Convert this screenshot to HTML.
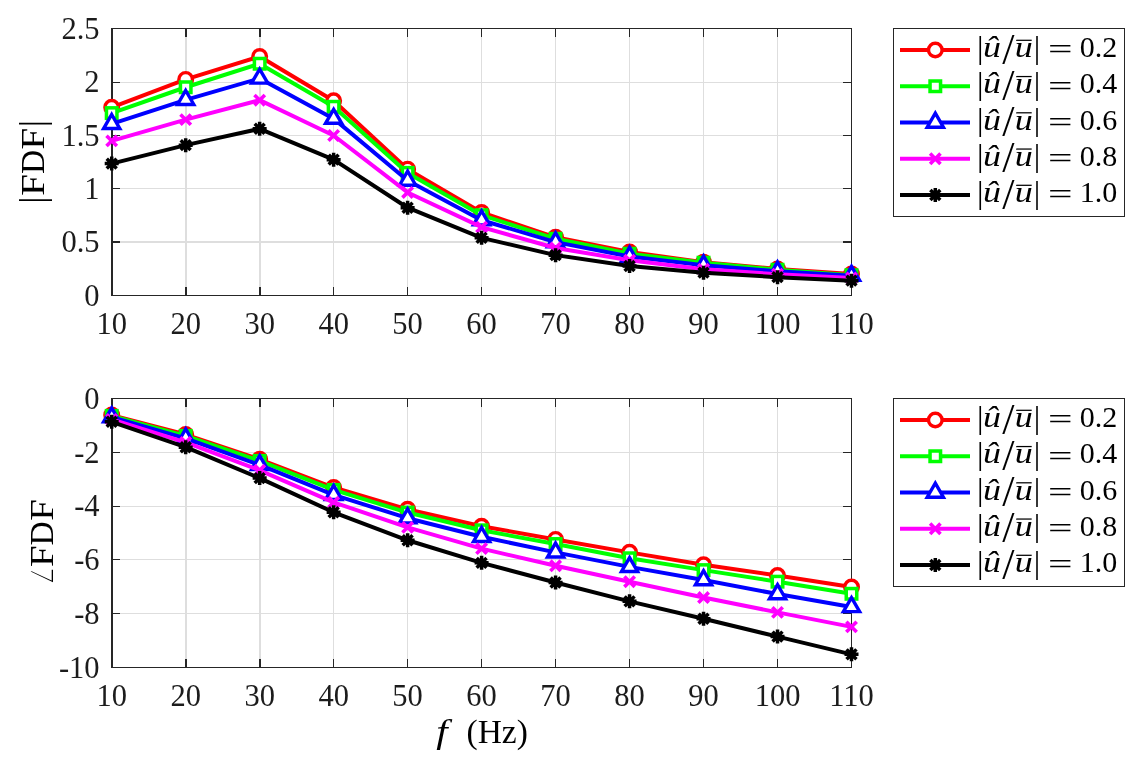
<!DOCTYPE html>
<html><head><meta charset="utf-8"><title>FDF magnitude and phase</title>
<style>
html,body{margin:0;padding:0;background:#fff;}
body{width:1136px;height:757px;overflow:hidden;}
svg{display:block;}
text{font-family:"Liberation Serif","Noto Serif CJK SC",serif;fill:#1c1c1c;}
.tl text{font-size:30.5px;}
.lg{font-size:30px;fill:#000;}
.lg.bar{font-size:32.5px;}
.lg.sl{font-size:44px;}
.al{font-size:33.5px;fill:#000;}
.al.bar2{font-size:35px;}
.ang{font-size:33px;fill:#000;font-family:"Noto Serif CJK SC","Liberation Serif",serif;}
.it{font-style:italic;}
</style></head><body>
<svg width="1136" height="757" viewBox="0 0 1136 757">
<rect width="1136" height="757" fill="#fff"/>
<path d="M185 29h2v266h-2zM259 29h2v266h-2zM333 29h1v266h-1zM407 29h1v266h-1zM481 29h1v266h-1zM555 29h1v266h-1zM629 29h1v266h-1zM703 29h1v266h-1zM777 29h1v266h-1zM113 241h738v2h-738zM113 188h738v1h-738zM113 135h738v1h-738zM113 82h738v1h-738z" fill="#dedede" shape-rendering="crispEdges"/>
<path d="M111 28h2v268h-2zM851 28h1v268h-1zM111 28h741v1h-741zM111 295h741v1h-741zM185 287h2v8h-2zM185 29h2v8h-2zM259 287h2v8h-2zM259 29h2v8h-2zM333 287h1v8h-1zM333 29h1v8h-1zM407 287h1v8h-1zM407 29h1v8h-1zM481 287h1v8h-1zM481 29h1v8h-1zM555 287h1v8h-1zM555 29h1v8h-1zM629 287h1v8h-1zM629 29h1v8h-1zM703 287h1v8h-1zM703 29h1v8h-1zM777 287h1v8h-1zM777 29h1v8h-1zM113 241h7v2h-7zM843 241h8v2h-8zM113 188h7v1h-7zM843 188h8v1h-8zM113 135h7v1h-7zM843 135h8v1h-8zM113 82h7v1h-7zM843 82h8v1h-8z" fill="#262626" shape-rendering="crispEdges"/>
<polyline points="111.7,107.32 185.68,79.44 259.66,56.48 333.64,100.8 407.62,169.16 481.6,212.52 555.58,237.29 629.56,252.03 703.54,262.18 777.52,268.91 851.5,273.93" fill="none" stroke="#ff0000" stroke-width="4.0" stroke-linejoin="round"/>
<circle cx="111.7" cy="107.32" r="6.8" fill="#fff" stroke="#ff0000" stroke-width="3.4"/>
<circle cx="185.68" cy="79.44" r="6.8" fill="#fff" stroke="#ff0000" stroke-width="3.4"/>
<circle cx="259.66" cy="56.48" r="6.8" fill="#fff" stroke="#ff0000" stroke-width="3.4"/>
<circle cx="333.64" cy="100.8" r="6.8" fill="#fff" stroke="#ff0000" stroke-width="3.4"/>
<circle cx="407.62" cy="169.16" r="6.8" fill="#fff" stroke="#ff0000" stroke-width="3.4"/>
<circle cx="481.6" cy="212.52" r="6.8" fill="#fff" stroke="#ff0000" stroke-width="3.4"/>
<circle cx="555.58" cy="237.29" r="6.8" fill="#fff" stroke="#ff0000" stroke-width="3.4"/>
<circle cx="629.56" cy="252.03" r="6.8" fill="#fff" stroke="#ff0000" stroke-width="3.4"/>
<circle cx="703.54" cy="262.18" r="6.8" fill="#fff" stroke="#ff0000" stroke-width="3.4"/>
<circle cx="777.52" cy="268.91" r="6.8" fill="#fff" stroke="#ff0000" stroke-width="3.4"/>
<circle cx="851.5" cy="273.93" r="6.8" fill="#fff" stroke="#ff0000" stroke-width="3.4"/>
<polyline points="111.7,113.09 185.68,87.24 259.66,63.74 333.64,106.78 407.62,172.89 481.6,215.19 555.58,238.79 629.56,253.74 703.54,262.71 777.52,269.76 851.5,275.21" fill="none" stroke="#00ff00" stroke-width="4.0" stroke-linejoin="round"/>
<rect x="106.45" y="107.84" width="10.5" height="10.5" fill="#fff" stroke="#00ff00" stroke-width="3.5"/>
<rect x="180.43" y="81.99" width="10.5" height="10.5" fill="#fff" stroke="#00ff00" stroke-width="3.5"/>
<rect x="254.41" y="58.49" width="10.5" height="10.5" fill="#fff" stroke="#00ff00" stroke-width="3.5"/>
<rect x="328.39" y="101.53" width="10.5" height="10.5" fill="#fff" stroke="#00ff00" stroke-width="3.5"/>
<rect x="402.37" y="167.64" width="10.5" height="10.5" fill="#fff" stroke="#00ff00" stroke-width="3.5"/>
<rect x="476.35" y="209.94" width="10.5" height="10.5" fill="#fff" stroke="#00ff00" stroke-width="3.5"/>
<rect x="550.33" y="233.54" width="10.5" height="10.5" fill="#fff" stroke="#00ff00" stroke-width="3.5"/>
<rect x="624.31" y="248.49" width="10.5" height="10.5" fill="#fff" stroke="#00ff00" stroke-width="3.5"/>
<rect x="698.29" y="257.46" width="10.5" height="10.5" fill="#fff" stroke="#00ff00" stroke-width="3.5"/>
<rect x="772.27" y="264.51" width="10.5" height="10.5" fill="#fff" stroke="#00ff00" stroke-width="3.5"/>
<rect x="846.25" y="269.96" width="10.5" height="10.5" fill="#fff" stroke="#00ff00" stroke-width="3.5"/>
<polyline points="111.7,123.87 185.68,99.84 259.66,78.48 333.64,118.64 407.62,180.58 481.6,220.21 555.58,242.1 629.56,256.52 703.54,265.28 777.52,271.36 851.5,275.74" fill="none" stroke="#0000ff" stroke-width="4.0" stroke-linejoin="round"/>
<path d="M111.7 114.51L119.8 128.55L103.6 128.55Z" fill="#fff" stroke="#0000ff" stroke-width="3.4" stroke-miterlimit="10"/>
<path d="M185.68 90.48L193.78 104.52L177.58 104.52Z" fill="#fff" stroke="#0000ff" stroke-width="3.4" stroke-miterlimit="10"/>
<path d="M259.66 69.12L267.76 83.16L251.56 83.16Z" fill="#fff" stroke="#0000ff" stroke-width="3.4" stroke-miterlimit="10"/>
<path d="M333.64 109.28L341.74 123.32L325.54 123.32Z" fill="#fff" stroke="#0000ff" stroke-width="3.4" stroke-miterlimit="10"/>
<path d="M407.62 171.22L415.72 185.26L399.52 185.26Z" fill="#fff" stroke="#0000ff" stroke-width="3.4" stroke-miterlimit="10"/>
<path d="M481.6 210.85L489.7 224.89L473.5 224.89Z" fill="#fff" stroke="#0000ff" stroke-width="3.4" stroke-miterlimit="10"/>
<path d="M555.58 232.74L563.68 246.78L547.48 246.78Z" fill="#fff" stroke="#0000ff" stroke-width="3.4" stroke-miterlimit="10"/>
<path d="M629.56 247.16L637.66 261.2L621.46 261.2Z" fill="#fff" stroke="#0000ff" stroke-width="3.4" stroke-miterlimit="10"/>
<path d="M703.54 255.92L711.64 269.96L695.44 269.96Z" fill="#fff" stroke="#0000ff" stroke-width="3.4" stroke-miterlimit="10"/>
<path d="M777.52 262L785.62 276.04L769.42 276.04Z" fill="#fff" stroke="#0000ff" stroke-width="3.4" stroke-miterlimit="10"/>
<path d="M851.5 266.38L859.6 280.42L843.4 280.42Z" fill="#fff" stroke="#0000ff" stroke-width="3.4" stroke-miterlimit="10"/>
<polyline points="111.7,140.85 185.68,119.6 259.66,100.16 333.64,135.51 407.62,192.44 481.6,227.15 555.58,247.97 629.56,260.26 703.54,269.33 777.52,274.14 851.5,277.98" fill="none" stroke="#ff00ff" stroke-width="4.0" stroke-linejoin="round"/>
<path d="M106.5 135.65L116.9 146.05M106.5 146.05L116.9 135.65" stroke="#ff00ff" stroke-width="3.6" fill="none"/>
<path d="M180.48 114.4L190.88 124.8M180.48 124.8L190.88 114.4" stroke="#ff00ff" stroke-width="3.6" fill="none"/>
<path d="M254.46 94.96L264.86 105.36M254.46 105.36L264.86 94.96" stroke="#ff00ff" stroke-width="3.6" fill="none"/>
<path d="M328.44 130.31L338.84 140.71M328.44 140.71L338.84 130.31" stroke="#ff00ff" stroke-width="3.6" fill="none"/>
<path d="M402.42 187.24L412.82 197.64M402.42 197.64L412.82 187.24" stroke="#ff00ff" stroke-width="3.6" fill="none"/>
<path d="M476.4 221.95L486.8 232.35M476.4 232.35L486.8 221.95" stroke="#ff00ff" stroke-width="3.6" fill="none"/>
<path d="M550.38 242.77L560.78 253.17M550.38 253.17L560.78 242.77" stroke="#ff00ff" stroke-width="3.6" fill="none"/>
<path d="M624.36 255.06L634.76 265.46M624.36 265.46L634.76 255.06" stroke="#ff00ff" stroke-width="3.6" fill="none"/>
<path d="M698.34 264.13L708.74 274.53M698.34 274.53L708.74 264.13" stroke="#ff00ff" stroke-width="3.6" fill="none"/>
<path d="M772.32 268.94L782.72 279.34M772.32 279.34L782.72 268.94" stroke="#ff00ff" stroke-width="3.6" fill="none"/>
<path d="M846.3 272.78L856.7 283.18M846.3 283.18L856.7 272.78" stroke="#ff00ff" stroke-width="3.6" fill="none"/>
<polyline points="111.7,163.6 185.68,145.13 259.66,128.79 333.64,159.65 407.62,207.71 481.6,237.83 555.58,255.13 629.56,266.02 703.54,272.64 777.52,277.13 851.5,280.65" fill="none" stroke="#000000" stroke-width="4.0" stroke-linejoin="round"/>
<path d="M104.7 163.6L118.7 163.6M111.7 156.6L111.7 170.6M106.75 158.65L116.65 168.55M106.75 168.55L116.65 158.65" stroke="#000000" stroke-width="3.5" fill="none"/>
<path d="M178.68 145.13L192.68 145.13M185.68 138.13L185.68 152.13M180.73 140.18L190.63 150.08M180.73 150.08L190.63 140.18" stroke="#000000" stroke-width="3.5" fill="none"/>
<path d="M252.66 128.79L266.66 128.79M259.66 121.79L259.66 135.79M254.71 123.84L264.61 133.73M254.71 133.73L264.61 123.84" stroke="#000000" stroke-width="3.5" fill="none"/>
<path d="M326.64 159.65L340.64 159.65M333.64 152.65L333.64 166.65M328.69 154.7L338.59 164.6M328.69 164.6L338.59 154.7" stroke="#000000" stroke-width="3.5" fill="none"/>
<path d="M400.62 207.71L414.62 207.71M407.62 200.71L407.62 214.71M402.67 202.76L412.57 212.66M402.67 212.66L412.57 202.76" stroke="#000000" stroke-width="3.5" fill="none"/>
<path d="M474.6 237.83L488.6 237.83M481.6 230.83L481.6 244.83M476.65 232.88L486.55 242.78M476.65 242.78L486.55 232.88" stroke="#000000" stroke-width="3.5" fill="none"/>
<path d="M548.58 255.13L562.58 255.13M555.58 248.13L555.58 262.13M550.63 250.18L560.53 260.08M550.63 260.08L560.53 250.18" stroke="#000000" stroke-width="3.5" fill="none"/>
<path d="M622.56 266.02L636.56 266.02M629.56 259.02L629.56 273.02M624.61 261.07L634.51 270.97M624.61 270.97L634.51 261.07" stroke="#000000" stroke-width="3.5" fill="none"/>
<path d="M696.54 272.64L710.54 272.64M703.54 265.64L703.54 279.64M698.59 267.7L708.49 277.59M698.59 277.59L708.49 267.7" stroke="#000000" stroke-width="3.5" fill="none"/>
<path d="M770.52 277.13L784.52 277.13M777.52 270.13L777.52 284.13M772.57 272.18L782.47 282.08M772.57 282.08L782.47 272.18" stroke="#000000" stroke-width="3.5" fill="none"/>
<path d="M844.5 280.65L858.5 280.65M851.5 273.65L851.5 287.65M846.55 275.71L856.45 285.6M846.55 285.6L856.45 275.71" stroke="#000000" stroke-width="3.5" fill="none"/>
<g class="tl"><text transform="translate(99.6 305.8)" text-anchor="end">0</text><text transform="translate(99.6 252.4)" text-anchor="end">0.5</text><text transform="translate(99.6 199)" text-anchor="end">1</text><text transform="translate(99.6 145.6)" text-anchor="end">1.5</text><text transform="translate(99.6 92.2)" text-anchor="end">2</text><text transform="translate(99.6 38.8)" text-anchor="end">2.5</text><text transform="translate(111.7 334.2)" text-anchor="middle">10</text><text transform="translate(185.68 334.2)" text-anchor="middle">20</text><text transform="translate(259.66 334.2)" text-anchor="middle">30</text><text transform="translate(333.64 334.2)" text-anchor="middle">40</text><text transform="translate(407.62 334.2)" text-anchor="middle">50</text><text transform="translate(481.6 334.2)" text-anchor="middle">60</text><text transform="translate(555.58 334.2)" text-anchor="middle">70</text><text transform="translate(629.56 334.2)" text-anchor="middle">80</text><text transform="translate(703.54 334.2)" text-anchor="middle">90</text><text transform="translate(777.52 334.2)" text-anchor="middle">100</text><text transform="translate(851.5 334.2)" text-anchor="middle">110</text></g>
<path d="M185 399h2v268h-2zM259 399h2v268h-2zM333 399h1v268h-1zM407 399h1v268h-1zM481 399h1v268h-1zM555 399h1v268h-1zM629 399h1v268h-1zM703 399h1v268h-1zM777 399h1v268h-1zM113 452h738v1h-738zM113 506h738v1h-738zM113 559h738v1h-738zM113 613h738v1h-738z" fill="#dedede" shape-rendering="crispEdges"/>
<path d="M111 398h2v270h-2zM851 398h1v270h-1zM111 398h741v1h-741zM111 667h741v1h-741zM185 659h2v8h-2zM185 399h2v8h-2zM259 659h2v8h-2zM259 399h2v8h-2zM333 659h1v8h-1zM333 399h1v8h-1zM407 659h1v8h-1zM407 399h1v8h-1zM481 659h1v8h-1zM481 399h1v8h-1zM555 659h1v8h-1zM555 399h1v8h-1zM629 659h1v8h-1zM629 399h1v8h-1zM703 659h1v8h-1zM703 399h1v8h-1zM777 659h1v8h-1zM777 399h1v8h-1zM113 452h7v1h-7zM843 452h8v1h-8zM113 506h7v1h-7zM843 506h8v1h-8zM113 559h7v1h-7zM843 559h8v1h-8zM113 613h7v1h-7zM843 613h8v1h-8z" fill="#262626" shape-rendering="crispEdges"/>
<polyline points="111.7,415.1 185.68,434.55 259.66,459.29 333.64,487.54 407.62,509.33 481.6,526.27 555.58,539.46 629.56,552.37 703.54,564.74 777.52,575.5 851.5,587.07" fill="none" stroke="#ff0000" stroke-width="4.0" stroke-linejoin="round"/>
<circle cx="111.7" cy="415.1" r="6.8" fill="#fff" stroke="#ff0000" stroke-width="3.4"/>
<circle cx="185.68" cy="434.55" r="6.8" fill="#fff" stroke="#ff0000" stroke-width="3.4"/>
<circle cx="259.66" cy="459.29" r="6.8" fill="#fff" stroke="#ff0000" stroke-width="3.4"/>
<circle cx="333.64" cy="487.54" r="6.8" fill="#fff" stroke="#ff0000" stroke-width="3.4"/>
<circle cx="407.62" cy="509.33" r="6.8" fill="#fff" stroke="#ff0000" stroke-width="3.4"/>
<circle cx="481.6" cy="526.27" r="6.8" fill="#fff" stroke="#ff0000" stroke-width="3.4"/>
<circle cx="555.58" cy="539.46" r="6.8" fill="#fff" stroke="#ff0000" stroke-width="3.4"/>
<circle cx="629.56" cy="552.37" r="6.8" fill="#fff" stroke="#ff0000" stroke-width="3.4"/>
<circle cx="703.54" cy="564.74" r="6.8" fill="#fff" stroke="#ff0000" stroke-width="3.4"/>
<circle cx="777.52" cy="575.5" r="6.8" fill="#fff" stroke="#ff0000" stroke-width="3.4"/>
<circle cx="851.5" cy="587.07" r="6.8" fill="#fff" stroke="#ff0000" stroke-width="3.4"/>
<polyline points="111.7,415.9 185.68,435.89 259.66,460.91 333.64,489.96 407.62,512.56 481.6,530.31 555.58,544.03 629.56,558.29 703.54,570.12 777.52,581.69 851.5,593.79" fill="none" stroke="#00ff00" stroke-width="4.0" stroke-linejoin="round"/>
<rect x="106.45" y="410.65" width="10.5" height="10.5" fill="#fff" stroke="#00ff00" stroke-width="3.5"/>
<rect x="180.43" y="430.64" width="10.5" height="10.5" fill="#fff" stroke="#00ff00" stroke-width="3.5"/>
<rect x="254.41" y="455.66" width="10.5" height="10.5" fill="#fff" stroke="#00ff00" stroke-width="3.5"/>
<rect x="328.39" y="484.71" width="10.5" height="10.5" fill="#fff" stroke="#00ff00" stroke-width="3.5"/>
<rect x="402.37" y="507.31" width="10.5" height="10.5" fill="#fff" stroke="#00ff00" stroke-width="3.5"/>
<rect x="476.35" y="525.06" width="10.5" height="10.5" fill="#fff" stroke="#00ff00" stroke-width="3.5"/>
<rect x="550.33" y="538.78" width="10.5" height="10.5" fill="#fff" stroke="#00ff00" stroke-width="3.5"/>
<rect x="624.31" y="553.04" width="10.5" height="10.5" fill="#fff" stroke="#00ff00" stroke-width="3.5"/>
<rect x="698.29" y="564.87" width="10.5" height="10.5" fill="#fff" stroke="#00ff00" stroke-width="3.5"/>
<rect x="772.27" y="576.44" width="10.5" height="10.5" fill="#fff" stroke="#00ff00" stroke-width="3.5"/>
<rect x="846.25" y="588.54" width="10.5" height="10.5" fill="#fff" stroke="#00ff00" stroke-width="3.5"/>
<polyline points="111.7,417.2 185.68,438.31 259.66,464.94 333.64,494.8 407.62,518.21 481.6,536.77 555.58,552.37 629.56,566.89 703.54,580.08 777.52,594.06 851.5,606.98" fill="none" stroke="#0000ff" stroke-width="4.0" stroke-linejoin="round"/>
<path d="M111.7 407.84L119.8 421.88L103.6 421.88Z" fill="#fff" stroke="#0000ff" stroke-width="3.4" stroke-miterlimit="10"/>
<path d="M185.68 428.95L193.78 442.99L177.58 442.99Z" fill="#fff" stroke="#0000ff" stroke-width="3.4" stroke-miterlimit="10"/>
<path d="M259.66 455.58L267.76 469.62L251.56 469.62Z" fill="#fff" stroke="#0000ff" stroke-width="3.4" stroke-miterlimit="10"/>
<path d="M333.64 485.44L341.74 499.48L325.54 499.48Z" fill="#fff" stroke="#0000ff" stroke-width="3.4" stroke-miterlimit="10"/>
<path d="M407.62 508.85L415.72 522.88L399.52 522.88Z" fill="#fff" stroke="#0000ff" stroke-width="3.4" stroke-miterlimit="10"/>
<path d="M481.6 527.41L489.7 541.45L473.5 541.45Z" fill="#fff" stroke="#0000ff" stroke-width="3.4" stroke-miterlimit="10"/>
<path d="M555.58 543.01L563.68 557.05L547.48 557.05Z" fill="#fff" stroke="#0000ff" stroke-width="3.4" stroke-miterlimit="10"/>
<path d="M629.56 557.53L637.66 571.57L621.46 571.57Z" fill="#fff" stroke="#0000ff" stroke-width="3.4" stroke-miterlimit="10"/>
<path d="M703.54 570.72L711.64 584.75L695.44 584.75Z" fill="#fff" stroke="#0000ff" stroke-width="3.4" stroke-miterlimit="10"/>
<path d="M777.52 584.7L785.62 598.74L769.42 598.74Z" fill="#fff" stroke="#0000ff" stroke-width="3.4" stroke-miterlimit="10"/>
<path d="M851.5 597.62L859.6 611.65L843.4 611.65Z" fill="#fff" stroke="#0000ff" stroke-width="3.4" stroke-miterlimit="10"/>
<polyline points="111.7,419.48 185.68,442.35 259.66,470.32 333.64,502.33 407.62,527.35 481.6,548.6 555.58,565.82 629.56,581.69 703.54,597.56 777.52,612.36 851.5,626.88" fill="none" stroke="#ff00ff" stroke-width="4.0" stroke-linejoin="round"/>
<path d="M106.5 414.28L116.9 424.68M106.5 424.68L116.9 414.28" stroke="#ff00ff" stroke-width="3.6" fill="none"/>
<path d="M180.48 437.15L190.88 447.55M180.48 447.55L190.88 437.15" stroke="#ff00ff" stroke-width="3.6" fill="none"/>
<path d="M254.46 465.12L264.86 475.52M254.46 475.52L264.86 465.12" stroke="#ff00ff" stroke-width="3.6" fill="none"/>
<path d="M328.44 497.13L338.84 507.53M328.44 507.53L338.84 497.13" stroke="#ff00ff" stroke-width="3.6" fill="none"/>
<path d="M402.42 522.15L412.82 532.55M402.42 532.55L412.82 522.15" stroke="#ff00ff" stroke-width="3.6" fill="none"/>
<path d="M476.4 543.4L486.8 553.8M476.4 553.8L486.8 543.4" stroke="#ff00ff" stroke-width="3.6" fill="none"/>
<path d="M550.38 560.62L560.78 571.02M550.38 571.02L560.78 560.62" stroke="#ff00ff" stroke-width="3.6" fill="none"/>
<path d="M624.36 576.49L634.76 586.89M624.36 586.89L634.76 576.49" stroke="#ff00ff" stroke-width="3.6" fill="none"/>
<path d="M698.34 592.36L708.74 602.76M698.34 602.76L708.74 592.36" stroke="#ff00ff" stroke-width="3.6" fill="none"/>
<path d="M772.32 607.15L782.72 617.56M772.32 617.56L782.72 607.15" stroke="#ff00ff" stroke-width="3.6" fill="none"/>
<path d="M846.3 621.68L856.7 632.08M846.3 632.08L856.7 621.68" stroke="#ff00ff" stroke-width="3.6" fill="none"/>
<polyline points="111.7,421.8 185.68,447.19 259.66,478.12 333.64,512.29 407.62,540.26 481.6,562.86 555.58,582.5 629.56,601.33 703.54,618.81 777.52,636.57 851.5,654.32" fill="none" stroke="#000000" stroke-width="4.0" stroke-linejoin="round"/>
<path d="M104.7 421.8L118.7 421.8M111.7 414.8L111.7 428.8M106.75 416.85L116.65 426.75M106.75 426.75L116.65 416.85" stroke="#000000" stroke-width="3.5" fill="none"/>
<path d="M178.68 447.19L192.68 447.19M185.68 440.19L185.68 454.19M180.73 442.24L190.63 452.14M180.73 452.14L190.63 442.24" stroke="#000000" stroke-width="3.5" fill="none"/>
<path d="M252.66 478.12L266.66 478.12M259.66 471.12L259.66 485.12M254.71 473.17L264.61 483.07M254.71 483.07L264.61 473.17" stroke="#000000" stroke-width="3.5" fill="none"/>
<path d="M326.64 512.29L340.64 512.29M333.64 505.29L333.64 519.29M328.69 507.34L338.59 517.24M328.69 517.24L338.59 507.34" stroke="#000000" stroke-width="3.5" fill="none"/>
<path d="M400.62 540.26L414.62 540.26M407.62 533.26L407.62 547.26M402.67 535.31L412.57 545.21M402.67 545.21L412.57 535.31" stroke="#000000" stroke-width="3.5" fill="none"/>
<path d="M474.6 562.86L488.6 562.86M481.6 555.86L481.6 569.86M476.65 557.91L486.55 567.81M476.65 567.81L486.55 557.91" stroke="#000000" stroke-width="3.5" fill="none"/>
<path d="M548.58 582.5L562.58 582.5M555.58 575.5L555.58 589.5M550.63 577.55L560.53 587.45M550.63 587.45L560.53 577.55" stroke="#000000" stroke-width="3.5" fill="none"/>
<path d="M622.56 601.33L636.56 601.33M629.56 594.33L629.56 608.33M624.61 596.38L634.51 606.28M624.61 606.28L634.51 596.38" stroke="#000000" stroke-width="3.5" fill="none"/>
<path d="M696.54 618.81L710.54 618.81M703.54 611.81L703.54 625.81M698.59 613.86L708.49 623.76M698.59 623.76L708.49 613.86" stroke="#000000" stroke-width="3.5" fill="none"/>
<path d="M770.52 636.57L784.52 636.57M777.52 629.57L777.52 643.57M772.57 631.62L782.47 641.51M772.57 641.51L782.47 631.62" stroke="#000000" stroke-width="3.5" fill="none"/>
<path d="M844.5 654.32L858.5 654.32M851.5 647.32L851.5 661.32M846.55 649.37L856.45 659.27M846.55 659.27L856.45 649.37" stroke="#000000" stroke-width="3.5" fill="none"/>
<g class="tl"><text transform="translate(99.6 408.8)" text-anchor="end">0</text><text transform="translate(99.6 462.6)" text-anchor="end">-2</text><text transform="translate(99.6 516.4)" text-anchor="end">-4</text><text transform="translate(99.6 570.2)" text-anchor="end">-6</text><text transform="translate(99.6 624)" text-anchor="end">-8</text><text transform="translate(99.6 677.8)" text-anchor="end">-10</text><text transform="translate(111.7 706.2)" text-anchor="middle">10</text><text transform="translate(185.68 706.2)" text-anchor="middle">20</text><text transform="translate(259.66 706.2)" text-anchor="middle">30</text><text transform="translate(333.64 706.2)" text-anchor="middle">40</text><text transform="translate(407.62 706.2)" text-anchor="middle">50</text><text transform="translate(481.6 706.2)" text-anchor="middle">60</text><text transform="translate(555.58 706.2)" text-anchor="middle">70</text><text transform="translate(629.56 706.2)" text-anchor="middle">80</text><text transform="translate(703.54 706.2)" text-anchor="middle">90</text><text transform="translate(777.52 706.2)" text-anchor="middle">100</text><text transform="translate(851.5 706.2)" text-anchor="middle">110</text></g>
<rect x="894" y="29" width="230" height="187" fill="#fff"/>
<path d="M893 28h1v189h-1zM1124 28h1v189h-1zM893 28h232v1h-232zM893 216h232v1h-232z" fill="#262626" shape-rendering="crispEdges"/>
<line x1="900" y1="50" x2="970" y2="50" stroke="#ff0000" stroke-width="4.0"/>
<circle cx="935.3" cy="50" r="6.8" fill="#fff" stroke="#ff0000" stroke-width="3.4"/>
<text class="lg bar" x="976.9" y="57.7">|</text>
<text class="lg it" transform="translate(983.0 57.1) scale(1.2 1)">&#251;</text>
<text class="lg sl" x="1002.3" y="63.7">/</text>
<text class="lg it" transform="translate(1014.7 57.1) scale(1.2 1)">u</text>
<text class="lg bar" x="1033.7" y="57.7">|</text>
<text class="lg" x="1079.7" y="57.1">0.2</text>
<text class="lg" transform="translate(1048.0 59.4) scale(1.45 1)">=</text>
<line x1="1016.2" y1="40.3" x2="1031.7" y2="40.3" stroke="#000" stroke-width="1.25"/>
<line x1="900" y1="86.25" x2="970" y2="86.25" stroke="#00ff00" stroke-width="4.0"/>
<rect x="930.05" y="81" width="10.5" height="10.5" fill="#fff" stroke="#00ff00" stroke-width="3.5"/>
<text class="lg bar" x="976.9" y="93.95">|</text>
<text class="lg it" transform="translate(983.0 93.35) scale(1.2 1)">&#251;</text>
<text class="lg sl" x="1002.3" y="99.95">/</text>
<text class="lg it" transform="translate(1014.7 93.35) scale(1.2 1)">u</text>
<text class="lg bar" x="1033.7" y="93.95">|</text>
<text class="lg" x="1079.7" y="93.35">0.4</text>
<text class="lg" transform="translate(1048.0 95.65) scale(1.45 1)">=</text>
<line x1="1016.2" y1="76.55" x2="1031.7" y2="76.55" stroke="#000" stroke-width="1.25"/>
<line x1="900" y1="122.5" x2="970" y2="122.5" stroke="#0000ff" stroke-width="4.0"/>
<path d="M935.3 113.14L943.4 127.18L927.2 127.18Z" fill="#fff" stroke="#0000ff" stroke-width="3.4" stroke-miterlimit="10"/>
<text class="lg bar" x="976.9" y="130.2">|</text>
<text class="lg it" transform="translate(983.0 129.6) scale(1.2 1)">&#251;</text>
<text class="lg sl" x="1002.3" y="136.2">/</text>
<text class="lg it" transform="translate(1014.7 129.6) scale(1.2 1)">u</text>
<text class="lg bar" x="1033.7" y="130.2">|</text>
<text class="lg" x="1079.7" y="129.6">0.6</text>
<text class="lg" transform="translate(1048.0 131.9) scale(1.45 1)">=</text>
<line x1="1016.2" y1="112.8" x2="1031.7" y2="112.8" stroke="#000" stroke-width="1.25"/>
<line x1="900" y1="158.75" x2="970" y2="158.75" stroke="#ff00ff" stroke-width="4.0"/>
<path d="M930.1 153.55L940.5 163.95M930.1 163.95L940.5 153.55" stroke="#ff00ff" stroke-width="3.6" fill="none"/>
<text class="lg bar" x="976.9" y="166.45">|</text>
<text class="lg it" transform="translate(983.0 165.85) scale(1.2 1)">&#251;</text>
<text class="lg sl" x="1002.3" y="172.45">/</text>
<text class="lg it" transform="translate(1014.7 165.85) scale(1.2 1)">u</text>
<text class="lg bar" x="1033.7" y="166.45">|</text>
<text class="lg" x="1079.7" y="165.85">0.8</text>
<text class="lg" transform="translate(1048.0 168.15) scale(1.45 1)">=</text>
<line x1="1016.2" y1="149.05" x2="1031.7" y2="149.05" stroke="#000" stroke-width="1.25"/>
<line x1="900" y1="195" x2="970" y2="195" stroke="#000000" stroke-width="4.0"/>
<path d="M928.3 195L942.3 195M935.3 188L935.3 202M930.35 190.05L940.25 199.95M930.35 199.95L940.25 190.05" stroke="#000000" stroke-width="3.5" fill="none"/>
<text class="lg bar" x="976.9" y="202.7">|</text>
<text class="lg it" transform="translate(983.0 202.1) scale(1.2 1)">&#251;</text>
<text class="lg sl" x="1002.3" y="208.7">/</text>
<text class="lg it" transform="translate(1014.7 202.1) scale(1.2 1)">u</text>
<text class="lg bar" x="1033.7" y="202.7">|</text>
<text class="lg" x="1079.7" y="202.1">1.0</text>
<text class="lg" transform="translate(1048.0 204.4) scale(1.45 1)">=</text>
<line x1="1016.2" y1="185.3" x2="1031.7" y2="185.3" stroke="#000" stroke-width="1.25"/>
<rect x="894" y="399" width="230" height="187" fill="#fff"/>
<path d="M893 398h1v189h-1zM1124 398h1v189h-1zM893 398h232v1h-232zM893 586h232v1h-232z" fill="#262626" shape-rendering="crispEdges"/>
<line x1="900" y1="420" x2="970" y2="420" stroke="#ff0000" stroke-width="4.0"/>
<circle cx="935.3" cy="420" r="6.8" fill="#fff" stroke="#ff0000" stroke-width="3.4"/>
<text class="lg bar" x="976.9" y="427.7">|</text>
<text class="lg it" transform="translate(983.0 427.1) scale(1.2 1)">&#251;</text>
<text class="lg sl" x="1002.3" y="433.7">/</text>
<text class="lg it" transform="translate(1014.7 427.1) scale(1.2 1)">u</text>
<text class="lg bar" x="1033.7" y="427.7">|</text>
<text class="lg" x="1079.7" y="427.1">0.2</text>
<text class="lg" transform="translate(1048.0 429.4) scale(1.45 1)">=</text>
<line x1="1016.2" y1="410.3" x2="1031.7" y2="410.3" stroke="#000" stroke-width="1.25"/>
<line x1="900" y1="456.25" x2="970" y2="456.25" stroke="#00ff00" stroke-width="4.0"/>
<rect x="930.05" y="451" width="10.5" height="10.5" fill="#fff" stroke="#00ff00" stroke-width="3.5"/>
<text class="lg bar" x="976.9" y="463.95">|</text>
<text class="lg it" transform="translate(983.0 463.35) scale(1.2 1)">&#251;</text>
<text class="lg sl" x="1002.3" y="469.95">/</text>
<text class="lg it" transform="translate(1014.7 463.35) scale(1.2 1)">u</text>
<text class="lg bar" x="1033.7" y="463.95">|</text>
<text class="lg" x="1079.7" y="463.35">0.4</text>
<text class="lg" transform="translate(1048.0 465.65) scale(1.45 1)">=</text>
<line x1="1016.2" y1="446.55" x2="1031.7" y2="446.55" stroke="#000" stroke-width="1.25"/>
<line x1="900" y1="492.5" x2="970" y2="492.5" stroke="#0000ff" stroke-width="4.0"/>
<path d="M935.3 483.14L943.4 497.18L927.2 497.18Z" fill="#fff" stroke="#0000ff" stroke-width="3.4" stroke-miterlimit="10"/>
<text class="lg bar" x="976.9" y="500.2">|</text>
<text class="lg it" transform="translate(983.0 499.6) scale(1.2 1)">&#251;</text>
<text class="lg sl" x="1002.3" y="506.2">/</text>
<text class="lg it" transform="translate(1014.7 499.6) scale(1.2 1)">u</text>
<text class="lg bar" x="1033.7" y="500.2">|</text>
<text class="lg" x="1079.7" y="499.6">0.6</text>
<text class="lg" transform="translate(1048.0 501.9) scale(1.45 1)">=</text>
<line x1="1016.2" y1="482.8" x2="1031.7" y2="482.8" stroke="#000" stroke-width="1.25"/>
<line x1="900" y1="528.75" x2="970" y2="528.75" stroke="#ff00ff" stroke-width="4.0"/>
<path d="M930.1 523.55L940.5 533.95M930.1 533.95L940.5 523.55" stroke="#ff00ff" stroke-width="3.6" fill="none"/>
<text class="lg bar" x="976.9" y="536.45">|</text>
<text class="lg it" transform="translate(983.0 535.85) scale(1.2 1)">&#251;</text>
<text class="lg sl" x="1002.3" y="542.45">/</text>
<text class="lg it" transform="translate(1014.7 535.85) scale(1.2 1)">u</text>
<text class="lg bar" x="1033.7" y="536.45">|</text>
<text class="lg" x="1079.7" y="535.85">0.8</text>
<text class="lg" transform="translate(1048.0 538.15) scale(1.45 1)">=</text>
<line x1="1016.2" y1="519.05" x2="1031.7" y2="519.05" stroke="#000" stroke-width="1.25"/>
<line x1="900" y1="565" x2="970" y2="565" stroke="#000000" stroke-width="4.0"/>
<path d="M928.3 565L942.3 565M935.3 558L935.3 572M930.35 560.05L940.25 569.95M930.35 569.95L940.25 560.05" stroke="#000000" stroke-width="3.5" fill="none"/>
<text class="lg bar" x="976.9" y="572.7">|</text>
<text class="lg it" transform="translate(983.0 572.1) scale(1.2 1)">&#251;</text>
<text class="lg sl" x="1002.3" y="578.7">/</text>
<text class="lg it" transform="translate(1014.7 572.1) scale(1.2 1)">u</text>
<text class="lg bar" x="1033.7" y="572.7">|</text>
<text class="lg" x="1079.7" y="572.1">1.0</text>
<text class="lg" transform="translate(1048.0 574.4) scale(1.45 1)">=</text>
<line x1="1016.2" y1="555.3" x2="1031.7" y2="555.3" stroke="#000" stroke-width="1.25"/>
<text class="al bar2" transform="translate(44.4 199.9) rotate(-90) scale(1 1)" text-anchor="middle">|</text>
<text class="al" transform="translate(44.4 185.1) rotate(-90) scale(1.18 1)" text-anchor="middle">F</text>
<text class="al" transform="translate(44.4 161.9) rotate(-90) scale(1 1)" text-anchor="middle">D</text>
<text class="al" transform="translate(44.4 138.7) rotate(-90) scale(1.18 1)" text-anchor="middle">F</text>
<text class="al bar2" transform="translate(44.4 123.6) rotate(-90) scale(1 1)" text-anchor="middle">|</text>
<text class="al" transform="translate(52.8 556.2) rotate(-90) scale(1.16 1)" text-anchor="middle">F</text>
<text class="al" transform="translate(52.8 533.3) rotate(-90) scale(1 1)" text-anchor="middle">D</text>
<text class="al" transform="translate(52.8 509.9) rotate(-90) scale(1.16 1)" text-anchor="middle">F</text>
<text class="ang" transform="translate(53.2 575.8) rotate(-90) scale(0.46 0.93)" text-anchor="middle">&#8736;</text>
<text class="al it" transform="translate(441.9 742.8) scale(1.22 1)" text-anchor="middle">f</text>
<text class="al" x="466.5" y="742.8">(Hz)</text>
</svg>
</body></html>
